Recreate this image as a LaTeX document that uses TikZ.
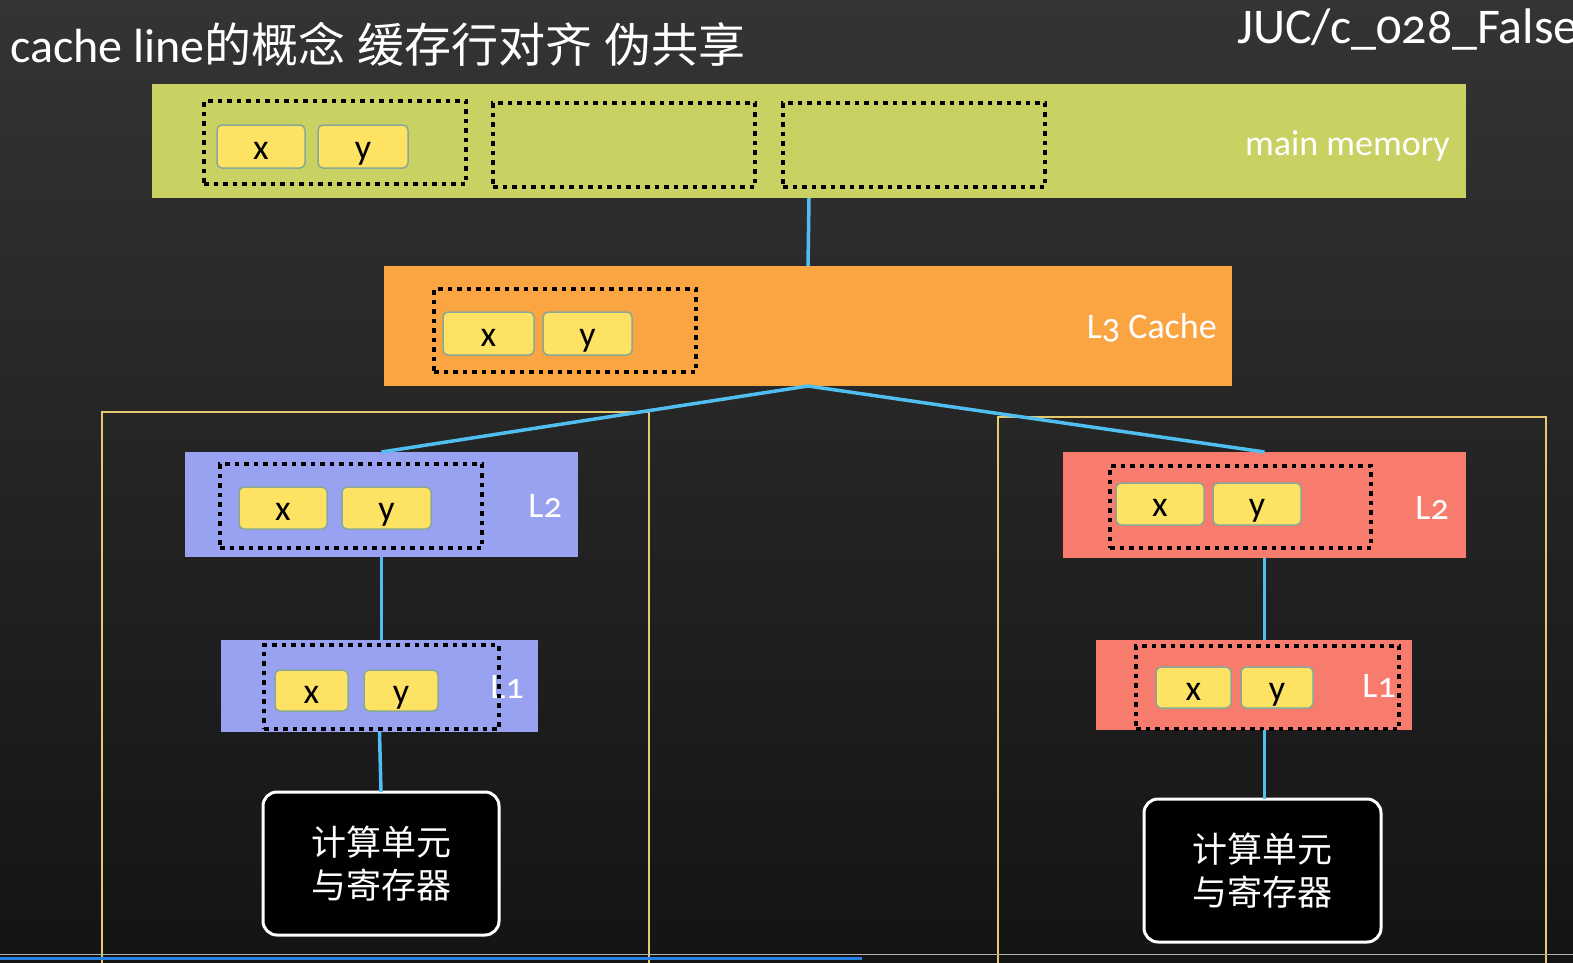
\documentclass[tikz,border=0pt]{standalone}
\usepackage{fontspec}
\setmainfont{Carlito}
\newfontfamily\cjk{Noto Sans CJK SC}
\newfontfamily\osf{Carlito}[Numbers=OldStyle]
\definecolor{bgtop}{RGB}{52,52,52}
\definecolor{bgbot}{RGB}{20,20,20}
\definecolor{memgreen}{RGB}{200,209,98}
\definecolor{lthree}{RGB}{250,164,66}
\definecolor{ltwoblue}{RGB}{152,162,240}
\definecolor{salmon}{RGB}{248,124,110}
\definecolor{cellyellow}{RGB}{254,226,100}
\definecolor{cellborder}{RGB}{136,168,152}
\definecolor{connblue}{RGB}{80,190,240}
\definecolor{framegold}{RGB}{230,200,110}
\definecolor{progblue}{RGB}{40,130,230}
\begin{document}
\begin{tikzpicture}[x=1pt,y=-1pt,
  rbox/.style 2 args={rectangle, inner sep=0pt, outer sep=0pt, minimum width=#1pt, minimum height=#2pt},
  dbox/.style 2 args={rbox={#1}{#2}, draw=black, line width=4.5pt, dash pattern=on 4.5pt off 5pt},
  cell/.style 2 args={rbox={#1}{#2}, fill=cellyellow, draw=cellborder, line width=1.5pt, rounded corners=5pt,
    font=\fontsize{36}{36}\selectfont, text=black, text height=27pt, text depth=2pt},
  lab/.style={anchor=base east, inner sep=0pt, text=white, font=\osf\fontsize{36}{36}\selectfont},
  cu/.style={rbox={236}{143}, fill=black, draw=white, line width=3pt, rounded corners=14pt,
    text=white, font=\cjk\fontsize{35}{43}\selectfont, align=center},
  conn/.style={draw=connblue, line width=3.5pt},
  frame/.style={draw=framegold, line width=1.8pt}]
\useasboundingbox (0,0) rectangle (1573,962);
\clip (0,0) rectangle (1573,962);
\shade[top color=bgtop, bottom color=bgbot] (0,0) rectangle (1573,962);

% title texts
\node[anchor=base west, inner sep=0pt, text=white] (title) at (10,62)
  {\fontsize{48}{48}\selectfont cache line{\cjk\fontsize{47}{47}\selectfont 的概念\hspace{12pt}缓存行对齐\hspace{12pt}伪共享}};
\node[anchor=base west, inner sep=0pt, text=white, font=\osf\fontsize{50}{50}\selectfont] (juc) at (1237,43) {JUC/c\_028\_False};

% processor frames
\draw[frame] (102,975) |- (649,412) -- (649,975);
\draw[frame] (998,975) |- (1546,417) -- (1546,975);

% main memory
\node[rbox={1314}{114}, fill=memgreen] (mem) at (809,141) {};
\node[dbox={262}{83}] (memd1) at (335,142.5) {};
\node[dbox={262}{84}] (memd2) at (624,145) {};
\node[dbox={262}{84}] (memd3) at (914,145) {};
\node[cell={88}{43}] (memx) at (261,146.5) {x};
\node[cell={90}{43}] (memy) at (363,146.5) {y};
\node[lab] (memlab) at (1450,155) {main memory};

% L3
\node[rbox={848}{120}, fill=lthree] (l3) at (808,326) {};
\node[dbox={262}{83}] (l3d) at (565,330.5) {};
\node[cell={91}{43}] (l3x) at (488.5,333.5) {x};
\node[cell={89}{43}] (l3y) at (587.5,333.5) {y};
\node[lab] (l3lab) at (1217,338) {L3 Cache};

% left core
\node[rbox={393}{105}, fill=ltwoblue] (l2L) at (381.5,504.5) {};
\node[dbox={262}{84}] (l2Ld) at (351,506) {};
\node[cell={88}{42}] (l2Lx) at (283,508) {x};
\node[cell={89}{42}] (l2Ly) at (386.5,508) {y};
\node[lab] (l2Llab) at (562,517) {L2};

\node[rbox={317}{92}, fill=ltwoblue] (l1L) at (379.5,686) {};
\node[lab] (l1Llab) at (524,698) {L1};
\node[dbox={235}{84}] (l1Ld) at (381.5,687) {};
\node[cell={73}{41}] (l1Lx) at (311.5,690.5) {x};
\node[cell={74}{41}] (l1Ly) at (401,690.5) {y};

\node[cu] (cuL) at (381,863.5) {计算单元\\与寄存器};

% right core
\node[rbox={403}{106}, fill=salmon] (l2R) at (1264.5,505) {};
\node[dbox={261}{82}] (l2Rd) at (1240.5,507) {};
\node[cell={88}{42}] (l2Rx) at (1160,504) {x};
\node[cell={88}{42}] (l2Ry) at (1257,504) {y};
\node[lab] (l2Rlab) at (1449,519) {L2};

\node[rbox={316}{90}, fill=salmon] (l1R) at (1254,685) {};
\node[lab] (l1Rlab) at (1396,697) {L1};
\node[dbox={263}{83}] (l1Rd) at (1267.5,687.5) {};
\node[cell={75}{41}] (l1Rx) at (1193.5,687.5) {x};
\node[cell={72}{41}] (l1Ry) at (1277,687.5) {y};

\node[cu, rbox={237}{143}] (cuR) at (1262.5,870.5) {计算单元\\与寄存器};

% connectors
\draw[conn] (mem.south) -- (l3.north);
\draw[conn] (l3.south) -- (l2L.north);
\draw[conn] (l3.south) -- (l2R.north);
\draw[conn] (l2L.south) -- (l2L.south |- l1L.north);
\draw[conn] (l1L.south) -- (cuL.north);
\draw[conn] (l2R.south) -- (l2R.south |- l1R.north);
\draw[conn] (l2R.south |- l1R.south) -- (l2R.south |- cuR.north);

% player bar at the bottom edge
\draw[draw=gray!60, line width=1pt] (0,954.5) -- (1573,954.5);
\draw[draw=progblue, line width=3pt] (0,958.5) -- (862,958.5);
\end{tikzpicture}
\end{document}
